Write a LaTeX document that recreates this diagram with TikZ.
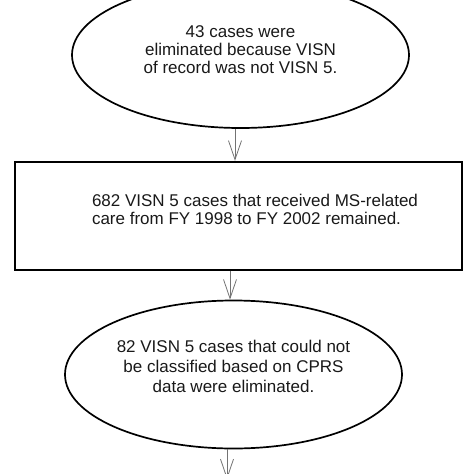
\documentclass[tikz,border=0pt]{standalone}
\usepackage{fontspec}
\setmainfont{Liberation Sans}
\usetikzlibrary{shapes, arrows.meta, positioning}
\tikzset{excluded/.style={draw, ellipse, line width=1.7pt, inner sep=0pt, minimum width=337pt, align=center}}
\tikzset{kept/.style={draw, rectangle, line width=1.8pt, inner sep=0pt, minimum width=447pt, minimum height=108pt, align=left}}
\tikzset{flow/.style={draw=black!55, line width=0.8pt, -{Straight Barb[length=19pt, width=13pt]}}}

\begin{document}
\begin{tikzpicture}[x=1pt, y=1pt, font=\fontsize{17}{18}\selectfont, text=black!90]
\clip (0,0) rectangle (474,-474);
\node[excluded, minimum height=146pt, text depth=10pt] (elim1) at (240.5,-55) {43 cases were \\ eliminated because VISN \\ of record was not VISN 5.};
\node[below=32pt of elim1, xshift=-2pt, kept, text depth=12pt] (remain) {\hspace*{33pt}682 VISN 5 cases that received MS-related \\ \hspace*{33pt}care from FY 1998 to FY 2002 remained.};
\node[below=29pt of remain, xshift=-5pt, excluded, minimum height=148pt, text depth=17pt, font=\fontsize{17}{20}\selectfont] (classify) {82 VISN 5 cases that could not \\ be classified based on CPRS \\ data were eliminated.};
\coordinate (next) at ([xshift=-6.5pt, yshift=-30pt]classify.south);

\draw[flow] ([xshift=-5.5pt]elim1.south) -- ([xshift=-3.5pt]remain.north);
\draw[flow] ([xshift=-8.5pt]remain.south) -- ([xshift=-3.5pt]classify.north);
\draw[flow] ([xshift=-6.5pt]classify.south) -- (next);
\end{tikzpicture}
\end{document}
